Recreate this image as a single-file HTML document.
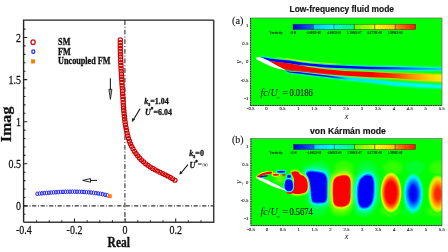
<!DOCTYPE html>
<html><head><meta charset="utf-8"><style>
html,body{margin:0;padding:0;background:#fff;width:448px;height:252px;overflow:hidden}
svg{display:block}
</style></head><body>
<svg width="448" height="252" viewBox="0 0 448 252">
<defs>
<filter id="b03" x="-50%" y="-50%" width="200%" height="200%"><feGaussianBlur stdDeviation="0.3"/></filter>
<filter id="b05" x="-50%" y="-50%" width="200%" height="200%"><feGaussianBlur stdDeviation="0.5"/></filter>
<filter id="b08" x="-50%" y="-50%" width="200%" height="200%"><feGaussianBlur stdDeviation="0.8"/></filter>
<filter id="b1" x="-50%" y="-50%" width="200%" height="200%"><feGaussianBlur stdDeviation="1"/></filter>
<filter id="b15" x="-50%" y="-50%" width="200%" height="200%"><feGaussianBlur stdDeviation="1.5"/></filter>
<filter id="b2" x="-50%" y="-50%" width="200%" height="200%"><feGaussianBlur stdDeviation="2"/></filter>
<filter id="b3" x="-50%" y="-50%" width="200%" height="200%"><feGaussianBlur stdDeviation="3"/></filter>
<clipPath id="cpa"><rect x="250.7" y="18" width="191.3" height="87.5"/></clipPath>
<clipPath id="cpb"><rect x="250.9" y="138.6" width="191.1" height="87"/></clipPath>
<radialGradient id="rR"><stop offset="0" stop-color="#ff0000"/><stop offset="0.5" stop-color="#ff0000"/><stop offset="0.68" stop-color="#ff6000"/><stop offset="0.8" stop-color="#ffc000"/><stop offset="0.88" stop-color="#e0ff00"/><stop offset="1" stop-color="#00ff00"/></radialGradient><radialGradient id="rR2"><stop offset="0" stop-color="#ff2000"/><stop offset="0.3" stop-color="#ff3000"/><stop offset="0.55" stop-color="#ff9000"/><stop offset="0.75" stop-color="#ffe000"/><stop offset="0.88" stop-color="#a0ff00"/><stop offset="1" stop-color="#00ff00"/></radialGradient><radialGradient id="rB"><stop offset="0" stop-color="#0000ff"/><stop offset="0.5" stop-color="#0000ff"/><stop offset="0.66" stop-color="#0070ff"/><stop offset="0.78" stop-color="#00e0ff"/><stop offset="0.88" stop-color="#00ffb0"/><stop offset="1" stop-color="#00ff00"/></radialGradient><radialGradient id="rB2"><stop offset="0" stop-color="#0000f0"/><stop offset="0.35" stop-color="#0010ff"/><stop offset="0.6" stop-color="#0090ff"/><stop offset="0.78" stop-color="#00f0ff"/><stop offset="0.9" stop-color="#00ff90"/><stop offset="1" stop-color="#00ff00"/></radialGradient><radialGradient id="hY"><stop offset="0" stop-color="#b0ff00"/><stop offset="0.6" stop-color="#90ff00"/><stop offset="1" stop-color="#00ff00"/></radialGradient><radialGradient id="hC"><stop offset="0" stop-color="#00ffa0"/><stop offset="0.6" stop-color="#00ff80"/><stop offset="1" stop-color="#00ff00"/></radialGradient><linearGradient id="gRed" x1="250" y1="0" x2="445" y2="0" gradientUnits="userSpaceOnUse">
<stop offset="0" stop-color="#ff0000"/><stop offset="0.62" stop-color="#ff0000"/><stop offset="0.73" stop-color="#ff3000"/><stop offset="0.82" stop-color="#ff8800"/><stop offset="0.92" stop-color="#ffd000"/><stop offset="1" stop-color="#f8f400"/></linearGradient>
<linearGradient id="gBlu" x1="250" y1="0" x2="445" y2="0" gradientUnits="userSpaceOnUse">
<stop offset="0" stop-color="#0000ff"/><stop offset="0.62" stop-color="#0000ff"/><stop offset="0.73" stop-color="#0040ff"/><stop offset="0.87" stop-color="#0090ff"/><stop offset="1" stop-color="#00d8ff"/></linearGradient>
<linearGradient id="gFr" x1="272" y1="0" x2="345" y2="0" gradientUnits="userSpaceOnUse">
<stop offset="0" stop-color="#00ff00"/><stop offset="0.2" stop-color="#a0ff00"/><stop offset="0.5" stop-color="#e0ff00"/><stop offset="0.8" stop-color="#a0ff00"/><stop offset="1" stop-color="#00ff00"/></linearGradient>
<linearGradient id="gYH" x1="250" y1="0" x2="445" y2="0" gradientUnits="userSpaceOnUse">
<stop offset="0" stop-color="#ffe000" stop-opacity="0"/><stop offset="0.23" stop-color="#ffe000" stop-opacity="0"/><stop offset="0.3" stop-color="#ffe000" stop-opacity="0.9"/><stop offset="1" stop-color="#ffe000" stop-opacity="0.9"/></linearGradient>
<linearGradient id="gBlu2" x1="250" y1="0" x2="445" y2="0" gradientUnits="userSpaceOnUse">
<stop offset="0" stop-color="#0000ff"/><stop offset="0.38" stop-color="#0000ff"/><stop offset="0.45" stop-color="#0060ff"/><stop offset="0.5" stop-color="#00e0ff"/><stop offset="1" stop-color="#00ffff"/></linearGradient>
</defs>
<rect width="448" height="252" fill="#fff"/>
<line x1="23.6" y1="205.9" x2="213.7" y2="205.9" stroke="#333" stroke-width="1.1" stroke-dasharray="4.2 1.7 0.9 1.7"/><line x1="124.9" y1="20.1" x2="124.9" y2="222.2" stroke="#333" stroke-width="1.1" stroke-dasharray="4.8 1.9 1 1.9"/><path d="M23.6 214.32h1.9 M23.6 205.90h3.6 M23.6 197.48h1.9 M23.6 189.06h1.9 M23.6 180.64h1.9 M23.6 172.22h1.9 M23.6 163.80h3.6 M23.6 155.38h1.9 M23.6 146.96h1.9 M23.6 138.54h1.9 M23.6 130.12h1.9 M23.6 121.70h3.6 M23.6 113.28h1.9 M23.6 104.86h1.9 M23.6 96.44h1.9 M23.6 88.02h1.9 M23.6 79.60h3.6 M23.6 71.18h1.9 M23.6 62.76h1.9 M23.6 54.34h1.9 M23.6 45.92h1.9 M23.6 37.50h3.6 M23.6 29.08h1.9 M36.55 222.2v-1.9 M49.20 222.2v-1.9 M61.85 222.2v-1.9 M74.50 222.2v-3.6 M87.15 222.2v-1.9 M99.80 222.2v-1.9 M112.45 222.2v-1.9 M125.10 222.2v-3.6 M137.75 222.2v-1.9 M150.40 222.2v-1.9 M163.05 222.2v-1.9 M175.70 222.2v-3.6 M188.35 222.2v-1.9 M201.00 222.2v-1.9" stroke="#222" stroke-width="1.1" fill="none"/><path d="M23.6 222.2V20.1H213.7" stroke="#222" stroke-width="1.4" fill="none"/><path d="M213.7 20.1V222.2H23.6" stroke="#3a3a3a" stroke-width="1.5" fill="none"/><text transform="translate(20.90,210.20) scale(0.78,1)" text-anchor="end" font-family='"Liberation Serif",serif' font-size="12.8" font-weight="normal" font-style="normal" fill="#111" stroke="#111" stroke-width="0.25">0</text><text transform="translate(20.90,168.10) scale(0.78,1)" text-anchor="end" font-family='"Liberation Serif",serif' font-size="12.8" font-weight="normal" font-style="normal" fill="#111" stroke="#111" stroke-width="0.25">0.5</text><text transform="translate(20.90,126.00) scale(0.78,1)" text-anchor="end" font-family='"Liberation Serif",serif' font-size="12.8" font-weight="normal" font-style="normal" fill="#111" stroke="#111" stroke-width="0.25">1</text><text transform="translate(20.90,83.90) scale(0.78,1)" text-anchor="end" font-family='"Liberation Serif",serif' font-size="12.8" font-weight="normal" font-style="normal" fill="#111" stroke="#111" stroke-width="0.25">1.5</text><text transform="translate(20.90,41.80) scale(0.78,1)" text-anchor="end" font-family='"Liberation Serif",serif' font-size="12.8" font-weight="normal" font-style="normal" fill="#111" stroke="#111" stroke-width="0.25">2</text><text transform="translate(23.90,233.70) scale(0.78,1)" text-anchor="middle" font-family='"Liberation Serif",serif' font-size="12.8" font-weight="normal" font-style="normal" fill="#111" stroke="#111" stroke-width="0.25">-0.4</text><text transform="translate(74.50,233.70) scale(0.78,1)" text-anchor="middle" font-family='"Liberation Serif",serif' font-size="12.8" font-weight="normal" font-style="normal" fill="#111" stroke="#111" stroke-width="0.25">-0.2</text><text transform="translate(125.10,233.70) scale(0.78,1)" text-anchor="middle" font-family='"Liberation Serif",serif' font-size="12.8" font-weight="normal" font-style="normal" fill="#111" stroke="#111" stroke-width="0.25">0</text><text transform="translate(175.70,233.70) scale(0.78,1)" text-anchor="middle" font-family='"Liberation Serif",serif' font-size="12.8" font-weight="normal" font-style="normal" fill="#111" stroke="#111" stroke-width="0.25">0.2</text><text x="107.6" y="246.7" font-family='"Liberation Serif",serif' font-size="13.6" font-weight="bold" fill="#111" stroke="#111" stroke-width="0.3" textLength="22.3" lengthAdjust="spacingAndGlyphs">Real</text><text transform="translate(11.3,142.2) rotate(-90) scale(1,0.87)" font-family='"Liberation Serif",serif' font-size="16" font-weight="bold" fill="#111" stroke="#111" stroke-width="0.3" textLength="35.6" lengthAdjust="spacingAndGlyphs">Imag</text><ellipse cx="33.1" cy="42.2" rx="2.05" ry="2.3" fill="none" stroke="#d01818" stroke-width="1.4"/><ellipse cx="33.3" cy="51.7" rx="1.5" ry="1.75" fill="none" stroke="#2828f0" stroke-width="1.3"/><rect x="31.1" y="59.3" width="3.8" height="4.2" fill="#ff7a00"/><text transform="translate(58.10,44.90) scale(0.87,1)" text-anchor="start" font-family='"Liberation Serif",serif' font-size="9.4" font-weight="bold" font-style="normal" fill="#111" stroke="#111" stroke-width="0.3">SM</text><text transform="translate(58.10,54.60) scale(0.87,1)" text-anchor="start" font-family='"Liberation Serif",serif' font-size="9.4" font-weight="bold" font-style="normal" fill="#111" stroke="#111" stroke-width="0.3">FM</text><text transform="translate(58.10,64.40) scale(0.87,1)" text-anchor="start" font-family='"Liberation Serif",serif' font-size="9.4" font-weight="bold" font-style="normal" fill="#111" stroke="#111" stroke-width="0.3">Uncoupled FM</text><g fill="none" stroke="#cc0404" stroke-width="1.2"><ellipse cx="120.29" cy="39.78" rx="2.15" ry="1.95"/><ellipse cx="120.27" cy="42.63" rx="2.15" ry="1.95"/><ellipse cx="120.28" cy="45.48" rx="2.15" ry="1.95"/><ellipse cx="120.31" cy="48.33" rx="2.15" ry="1.95"/><ellipse cx="120.37" cy="51.17" rx="2.15" ry="1.95"/><ellipse cx="120.44" cy="54.02" rx="2.15" ry="1.95"/><ellipse cx="120.54" cy="56.86" rx="2.15" ry="1.95"/><ellipse cx="120.65" cy="59.71" rx="2.15" ry="1.95"/><ellipse cx="120.77" cy="62.55" rx="2.15" ry="1.95"/><ellipse cx="120.91" cy="65.39" rx="2.15" ry="1.95"/><ellipse cx="121.06" cy="68.23" rx="2.15" ry="1.95"/><ellipse cx="121.22" cy="71.06" rx="2.15" ry="1.95"/><ellipse cx="121.39" cy="73.90" rx="2.15" ry="1.95"/><ellipse cx="121.56" cy="76.73" rx="2.15" ry="1.95"/><ellipse cx="121.75" cy="79.57" rx="2.15" ry="1.95"/><ellipse cx="121.93" cy="82.40" rx="2.15" ry="1.95"/><ellipse cx="122.12" cy="85.23" rx="2.15" ry="1.95"/><ellipse cx="122.31" cy="88.06" rx="2.15" ry="1.95"/><ellipse cx="122.49" cy="90.89" rx="2.15" ry="1.95"/><ellipse cx="122.67" cy="93.72" rx="2.15" ry="1.95"/><ellipse cx="122.85" cy="96.54" rx="2.15" ry="1.95"/><ellipse cx="123.03" cy="99.37" rx="2.15" ry="1.95"/><ellipse cx="123.21" cy="102.20" rx="2.15" ry="1.95"/><ellipse cx="123.40" cy="105.02" rx="2.15" ry="1.95"/><ellipse cx="123.60" cy="107.85" rx="2.15" ry="1.95"/><ellipse cx="123.83" cy="110.67" rx="2.15" ry="1.95"/><ellipse cx="124.08" cy="113.48" rx="2.15" ry="1.95"/><ellipse cx="124.36" cy="116.30" rx="2.15" ry="1.95"/><ellipse cx="124.68" cy="119.11" rx="2.15" ry="1.95"/><ellipse cx="125.05" cy="121.91" rx="2.15" ry="1.95"/><ellipse cx="125.46" cy="124.70" rx="2.15" ry="1.95"/><ellipse cx="125.93" cy="127.49" rx="2.15" ry="1.95"/><ellipse cx="126.45" cy="130.26" rx="2.15" ry="1.95"/><ellipse cx="127.04" cy="133.02" rx="2.15" ry="1.95"/><ellipse cx="127.72" cy="135.76" rx="2.15" ry="1.95"/><ellipse cx="128.50" cy="138.47" rx="2.15" ry="1.95"/><ellipse cx="129.40" cy="141.14" rx="2.15" ry="1.95"/><ellipse cx="130.44" cy="143.76" rx="2.15" ry="1.95"/><ellipse cx="131.62" cy="146.32" rx="2.15" ry="1.95"/><ellipse cx="132.95" cy="148.81" rx="2.15" ry="1.95"/><ellipse cx="134.40" cy="151.22" rx="2.15" ry="1.95"/><ellipse cx="135.99" cy="153.54" rx="2.15" ry="1.95"/><ellipse cx="137.70" cy="155.77" rx="2.15" ry="1.95"/><ellipse cx="139.54" cy="157.91" rx="2.15" ry="1.95"/><ellipse cx="141.48" cy="159.94" rx="2.15" ry="1.95"/><ellipse cx="143.53" cy="161.87" rx="2.15" ry="1.95"/><ellipse cx="145.68" cy="163.68" rx="2.15" ry="1.95"/><ellipse cx="147.92" cy="165.37" rx="2.15" ry="1.95"/><ellipse cx="150.25" cy="166.94" rx="2.15" ry="1.95"/><ellipse cx="152.65" cy="168.40" rx="2.15" ry="1.95"/><ellipse cx="155.11" cy="169.76" rx="2.15" ry="1.95"/><ellipse cx="157.61" cy="171.04" rx="2.15" ry="1.95"/><ellipse cx="160.12" cy="172.29" rx="2.15" ry="1.95"/><ellipse cx="162.65" cy="173.51" rx="2.15" ry="1.95"/><ellipse cx="165.17" cy="174.74" rx="2.15" ry="1.95"/><ellipse cx="167.67" cy="176.00" rx="2.15" ry="1.95"/><ellipse cx="170.15" cy="177.32" rx="2.15" ry="1.95"/><ellipse cx="172.57" cy="178.72" rx="2.15" ry="1.95"/><ellipse cx="174.92" cy="180.24" rx="2.15" ry="1.95"/></g><g fill="none" stroke="#2020f4" stroke-width="1.0"><ellipse cx="37.21" cy="193.79" rx="1.45" ry="1.8"/><ellipse cx="39.55" cy="193.57" rx="1.45" ry="1.8"/><ellipse cx="41.89" cy="193.35" rx="1.45" ry="1.8"/><ellipse cx="44.23" cy="193.14" rx="1.45" ry="1.8"/><ellipse cx="46.57" cy="192.94" rx="1.45" ry="1.8"/><ellipse cx="48.91" cy="192.75" rx="1.45" ry="1.8"/><ellipse cx="51.25" cy="192.57" rx="1.45" ry="1.8"/><ellipse cx="53.60" cy="192.40" rx="1.45" ry="1.8"/><ellipse cx="55.94" cy="192.25" rx="1.45" ry="1.8"/><ellipse cx="58.29" cy="192.11" rx="1.45" ry="1.8"/><ellipse cx="60.63" cy="191.99" rx="1.45" ry="1.8"/><ellipse cx="62.98" cy="191.88" rx="1.45" ry="1.8"/><ellipse cx="65.33" cy="191.80" rx="1.45" ry="1.8"/><ellipse cx="67.68" cy="191.73" rx="1.45" ry="1.8"/><ellipse cx="70.03" cy="191.69" rx="1.45" ry="1.8"/><ellipse cx="72.38" cy="191.67" rx="1.45" ry="1.8"/><ellipse cx="74.73" cy="191.68" rx="1.45" ry="1.8"/><ellipse cx="77.08" cy="191.72" rx="1.45" ry="1.8"/><ellipse cx="79.43" cy="191.78" rx="1.45" ry="1.8"/><ellipse cx="81.78" cy="191.87" rx="1.45" ry="1.8"/><ellipse cx="84.12" cy="192.00" rx="1.45" ry="1.8"/><ellipse cx="86.47" cy="192.15" rx="1.45" ry="1.8"/><ellipse cx="88.81" cy="192.34" rx="1.45" ry="1.8"/><ellipse cx="91.15" cy="192.57" rx="1.45" ry="1.8"/><ellipse cx="93.48" cy="192.83" rx="1.45" ry="1.8"/><ellipse cx="95.81" cy="193.14" rx="1.45" ry="1.8"/><ellipse cx="98.14" cy="193.48" rx="1.45" ry="1.8"/><ellipse cx="100.46" cy="193.86" rx="1.45" ry="1.8"/><ellipse cx="102.77" cy="194.29" rx="1.45" ry="1.8"/><ellipse cx="105.07" cy="194.76" rx="1.45" ry="1.8"/><ellipse cx="107.36" cy="195.27" rx="1.45" ry="1.8"/></g><rect x="107.9" y="194.2" width="3.8" height="4" fill="#ff7a00"/><path d="M110.4 78.2V90" stroke="#222" stroke-width="1.1"/><path d="M108.9 89.3L110.4 99.4L111.9 89.3Z" fill="#aaa" stroke="#111" stroke-width="0.8"/><path d="M97 180.4H89" stroke="#111" stroke-width="1"/><path d="M90.5 178.6L82.7 180.4L90.5 182.2Z" fill="#fff" stroke="#111" stroke-width="0.9"/><path d="M140 108.8L133.5 119.8" stroke="#111" stroke-width="1.1"/><path d="M131.9 122L132.2 117.9L135.0 119.6Z" fill="#111"/><path d="M187.9 164.6L181 173" stroke="#111" stroke-width="1.1"/><path d="M179.5 174.8L180 170.9L182.6 172.9Z" fill="#111"/><text transform="translate(144.20,103.60) scale(0.87,1)" text-anchor="start" font-family='"Liberation Serif",serif' font-size="9.2" font-weight="bold" font-style="normal" fill="#111" stroke="#111" stroke-width="0.3"><tspan font-style="italic">k</tspan><tspan font-size="6" dy="2">s</tspan><tspan dy="-2">=1.04</tspan></text><text transform="translate(145.10,114.70) scale(0.87,1)" text-anchor="start" font-family='"Liberation Serif",serif' font-size="9.2" font-weight="bold" font-style="normal" fill="#111" stroke="#111" stroke-width="0.3"><tspan font-style="italic">U</tspan><tspan font-size="6" dy="-4">*</tspan><tspan dy="4">=6.04</tspan></text><text transform="translate(189.30,156.10) scale(0.87,1)" text-anchor="start" font-family='"Liberation Serif",serif' font-size="9.2" font-weight="bold" font-style="normal" fill="#111" stroke="#111" stroke-width="0.3"><tspan font-style="italic">k</tspan><tspan font-size="6" dy="2">s</tspan><tspan dy="-2">=0</tspan></text><text transform="translate(189.60,167.70) scale(0.87,1)" text-anchor="start" font-family='"Liberation Serif",serif' font-size="9.2" font-weight="bold" font-style="normal" fill="#111" stroke="#111" stroke-width="0.3"><tspan font-style="italic">U</tspan><tspan font-size="6" dy="-4">*</tspan></text><text x="197.6" y="167.3" font-family='"Liberation Serif",serif' font-size="7.2" font-weight="bold" fill="#111" textLength="10.4" lengthAdjust="spacingAndGlyphs">=&#8734;</text>
<rect x="250.6" y="18.0" width="191.40" height="87.50" fill="#00ff00"/><g clip-path="url(#cpa)"><path d="M261.2 56.1 L266.0 56.9 L270.1 57.7 L278.1 58.5 L290.0 59.7 L300.0 61.4 L310.0 62.7 L325.0 63.9 L345.0 64.9 L370.0 65.9 L392.0 66.1 L420.0 66.8 L445.0 67.5 L445.0 70.8 L420.0 70.7 L392.0 70.5 L370.0 70.1 L345.0 69.2 L325.0 68.4 L310.0 66.9 L300.0 66.1 L290.0 64.3 L278.1 63.1 L270.1 61.9 L266.0 60.5 L261.2 58.2Z" fill="#00ffff" filter="url(#b08)"/><path d="M261.2 57.0 L266.0 57.8 L270.1 58.6 L278.1 59.4 L290.0 60.6 L300.0 62.3 L310.0 63.6 L325.0 64.8 L345.0 65.8 L370.0 66.8 L392.0 67.0 L420.0 67.7 L445.0 68.4 L445.0 69.9 L420.0 69.8 L392.0 69.6 L370.0 69.2 L345.0 68.3 L325.0 67.5 L310.0 66.0 L300.0 65.2 L290.0 63.4 L278.1 62.2 L270.1 61.0 L266.0 59.6 L261.2 57.3Z" fill="url(#gBlu)" filter="url(#b05)"/><path d="M272.0 56.8 L285.0 58.1 L300.0 60.3 L315.0 62.0 L330.0 63.0 L345.0 63.8 L345.0 64.9 L330.0 64.1 L315.0 63.1 L300.0 61.4 L285.0 59.2 L272.0 57.9Z" fill="url(#gFr)" filter="url(#b05)"/><path d="M269.3 60.5 L274.1 61.1 L278.1 61.6 L282.1 62.0 L286.2 62.5 L290.0 62.9 L300.0 65.1 L310.0 66.8 L325.0 68.7 L345.0 70.4 L370.0 71.6 L392.0 72.8 L420.0 73.5 L445.0 74.2 L445.0 82.6 L420.0 81.2 L392.0 79.1 L370.0 78.2 L345.0 76.8 L325.0 75.3 L310.0 73.7 L300.0 72.8 L290.0 72.1 L286.2 71.3 L282.1 69.3 L278.1 67.3 L274.1 64.9 L269.3 62.6Z" fill="url(#gYH)" filter="url(#b08)"/><path d="M269.3 61.0 L274.1 61.6 L278.1 62.1 L282.1 62.5 L286.2 63.0 L290.0 63.4 L300.0 65.6 L310.0 67.3 L325.0 69.2 L345.0 70.9 L370.0 72.1 L392.0 73.3 L420.0 74.0 L445.0 74.7 L445.0 81.6 L420.0 80.2 L392.0 78.1 L370.0 77.2 L345.0 75.8 L325.0 74.3 L310.0 72.7 L300.0 71.8 L290.0 71.1 L286.2 70.3 L282.1 68.3 L278.1 66.3 L274.1 63.9 L269.3 61.6Z" fill="url(#gRed)" filter="url(#b05)"/><path d="M285.4 70.1 L290.0 71.2 L300.0 71.7 L310.0 72.9 L325.0 74.7 L345.0 76.9 L370.0 79.1 L392.0 81.8 L420.0 83.5 L445.0 85.0 L445.0 88.6 L420.0 87.4 L392.0 85.6 L370.0 82.5 L345.0 80.0 L325.0 77.4 L310.0 75.5 L300.0 74.3 L290.0 73.3 L285.4 71.4Z" fill="#00ffff" filter="url(#b08)"/><path d="M285.4 70.6 L290.0 71.7 L300.0 72.2 L310.0 73.4 L325.0 75.2 L345.0 77.4 L370.0 79.6 L392.0 82.3 L420.0 84.0 L445.0 85.5 L445.0 88.0 L420.0 86.8 L392.0 85.0 L370.0 81.9 L345.0 79.4 L325.0 76.8 L310.0 74.9 L300.0 73.7 L290.0 72.7 L285.4 70.8Z" fill="url(#gBlu2)" filter="url(#b05)"/><path d="M256 58.2 L256.6 57.2 L258 56.9 L262 58 L266.1 59.8 L270.1 61.8 L274.1 63.9 L278.1 66.3 L282.1 68.3 L285.4 70.0 L285.4 70.2 L282.1 69.5 L278.1 68.7 L274.1 67.5 L270.1 65.9 L266.1 64.3 L262 62.2 L257.2 59.8 L256.3 59.2Z" fill="#fff" filter="url(#b03)"/></g><linearGradient id="cb18_0"><stop offset="0" stop-color="#0000d8"/><stop offset="1" stop-color="#1060ff"/></linearGradient><rect x="293.00" y="24.2" width="20.45" height="5.30" fill="url(#cb18_0)"/><linearGradient id="cb18_1"><stop offset="0" stop-color="#00c8ff"/><stop offset="1" stop-color="#00ffff"/></linearGradient><rect x="313.45" y="24.2" width="20.45" height="5.30" fill="url(#cb18_1)"/><linearGradient id="cb18_2"><stop offset="0" stop-color="#00ffd0"/><stop offset="1" stop-color="#00ff70"/></linearGradient><rect x="333.90" y="24.2" width="20.45" height="5.30" fill="url(#cb18_2)"/><linearGradient id="cb18_3"><stop offset="0" stop-color="#60ff00"/><stop offset="1" stop-color="#d0ff00"/></linearGradient><rect x="354.35" y="24.2" width="20.45" height="5.30" fill="url(#cb18_3)"/><linearGradient id="cb18_4"><stop offset="0" stop-color="#ffff00"/><stop offset="1" stop-color="#ffc000"/></linearGradient><rect x="374.80" y="24.2" width="20.45" height="5.30" fill="url(#cb18_4)"/><linearGradient id="cb18_5"><stop offset="0" stop-color="#ff9000"/><stop offset="1" stop-color="#ff1000"/></linearGradient><rect x="395.25" y="24.2" width="20.45" height="5.30" fill="url(#cb18_5)"/><rect x="293.0" y="24.2" width="122.70" height="5.30" fill="none" stroke="#333" stroke-width="0.5"/><path d="M313.45 24.2V29.5 M333.90 24.2V29.5 M354.35 24.2V29.5 M374.80 24.2V29.5 M395.25 24.2V29.5" stroke="#333" stroke-width="0.6"/><text x="276.00" y="34.40" text-anchor="middle" font-family='"Liberation Serif",serif' font-size="3.6" font-weight="bold" font-style="normal" fill="#111" textLength="13.5" lengthAdjust="spacingAndGlyphs">Vorticity</text><text x="293.00" y="34.40" text-anchor="middle" font-family='"Liberation Serif",serif' font-size="3.4" font-weight="bold" font-style="normal" fill="#111" textLength="6" lengthAdjust="spacingAndGlyphs">-2E-08</text><text x="313.45" y="34.40" text-anchor="middle" font-family='"Liberation Serif",serif' font-size="3.4" font-weight="bold" font-style="normal" fill="#111" textLength="14.5" lengthAdjust="spacingAndGlyphs">-1.0002E-08</text><text x="333.90" y="34.40" text-anchor="middle" font-family='"Liberation Serif",serif' font-size="3.4" font-weight="bold" font-style="normal" fill="#111" textLength="14.5" lengthAdjust="spacingAndGlyphs">-4.0002E-09</text><text x="354.35" y="34.40" text-anchor="middle" font-family='"Liberation Serif",serif' font-size="3.4" font-weight="bold" font-style="normal" fill="#111" textLength="14.5" lengthAdjust="spacingAndGlyphs">1.3006E-07</text><text x="374.80" y="34.40" text-anchor="middle" font-family='"Liberation Serif",serif' font-size="3.4" font-weight="bold" font-style="normal" fill="#111" textLength="14.5" lengthAdjust="spacingAndGlyphs">6.0778E-09</text><text x="395.25" y="34.40" text-anchor="middle" font-family='"Liberation Serif",serif' font-size="3.4" font-weight="bold" font-style="normal" fill="#111" textLength="14.5" lengthAdjust="spacingAndGlyphs">1.9994E-08</text><rect x="250.6" y="18.0" width="191.40" height="87.50" fill="none" stroke="#666" stroke-width="0.7"/><path d="M250.6 105.5H442.0" stroke="#222" stroke-width="0.9" stroke-dasharray="1.4 1.0"/><path d="M250.6 18.0V105.5" stroke="#222" stroke-width="0.9" stroke-dasharray="1.4 1.0"/><text x="250.60" y="110.40" text-anchor="middle" font-family='"Liberation Serif",serif' font-size="4.8" font-weight="normal" font-style="normal" fill="#222" stroke="#222" stroke-width="0.12">-0.5</text><text x="266.52" y="110.40" text-anchor="middle" font-family='"Liberation Serif",serif' font-size="4.8" font-weight="normal" font-style="normal" fill="#222" stroke="#222" stroke-width="0.12">0</text><text x="282.45" y="110.40" text-anchor="middle" font-family='"Liberation Serif",serif' font-size="4.8" font-weight="normal" font-style="normal" fill="#222" stroke="#222" stroke-width="0.12">0.5</text><text x="298.38" y="110.40" text-anchor="middle" font-family='"Liberation Serif",serif' font-size="4.8" font-weight="normal" font-style="normal" fill="#222" stroke="#222" stroke-width="0.12">1</text><text x="314.30" y="110.40" text-anchor="middle" font-family='"Liberation Serif",serif' font-size="4.8" font-weight="normal" font-style="normal" fill="#222" stroke="#222" stroke-width="0.12">1.5</text><text x="330.23" y="110.40" text-anchor="middle" font-family='"Liberation Serif",serif' font-size="4.8" font-weight="normal" font-style="normal" fill="#222" stroke="#222" stroke-width="0.12">2</text><text x="346.15" y="110.40" text-anchor="middle" font-family='"Liberation Serif",serif' font-size="4.8" font-weight="normal" font-style="normal" fill="#222" stroke="#222" stroke-width="0.12">2.5</text><text x="362.07" y="110.40" text-anchor="middle" font-family='"Liberation Serif",serif' font-size="4.8" font-weight="normal" font-style="normal" fill="#222" stroke="#222" stroke-width="0.12">3</text><text x="378.00" y="110.40" text-anchor="middle" font-family='"Liberation Serif",serif' font-size="4.8" font-weight="normal" font-style="normal" fill="#222" stroke="#222" stroke-width="0.12">3.5</text><text x="393.93" y="110.40" text-anchor="middle" font-family='"Liberation Serif",serif' font-size="4.8" font-weight="normal" font-style="normal" fill="#222" stroke="#222" stroke-width="0.12">4</text><text x="409.85" y="110.40" text-anchor="middle" font-family='"Liberation Serif",serif' font-size="4.8" font-weight="normal" font-style="normal" fill="#222" stroke="#222" stroke-width="0.12">4.5</text><text x="425.77" y="110.40" text-anchor="middle" font-family='"Liberation Serif",serif' font-size="4.8" font-weight="normal" font-style="normal" fill="#222" stroke="#222" stroke-width="0.12">5</text><text x="441.70" y="110.40" text-anchor="middle" font-family='"Liberation Serif",serif' font-size="4.8" font-weight="normal" font-style="normal" fill="#222" stroke="#222" stroke-width="0.12">5.5</text><text x="248.30" y="26.80" text-anchor="end" font-family='"Liberation Serif",serif' font-size="4.8" font-weight="normal" font-style="normal" fill="#222" stroke="#222" stroke-width="0.12">1</text><text x="248.30" y="45.10" text-anchor="end" font-family='"Liberation Serif",serif' font-size="4.8" font-weight="normal" font-style="normal" fill="#222" stroke="#222" stroke-width="0.12">0.5</text><text x="248.30" y="63.40" text-anchor="end" font-family='"Liberation Serif",serif' font-size="4.8" font-weight="normal" font-style="normal" fill="#222" stroke="#222" stroke-width="0.12">0</text><text x="248.30" y="81.70" text-anchor="end" font-family='"Liberation Serif",serif' font-size="4.8" font-weight="normal" font-style="normal" fill="#222" stroke="#222" stroke-width="0.12">-0.5</text><text x="248.30" y="100.00" text-anchor="end" font-family='"Liberation Serif",serif' font-size="4.8" font-weight="normal" font-style="normal" fill="#222" stroke="#222" stroke-width="0.12">-1</text><text transform="translate(240.8,61.70) rotate(-90)" text-anchor="middle" font-family='"Liberation Serif",serif' font-size="8" font-style="italic" fill="#111">y</text><text x="346.50" y="118.80" text-anchor="middle" font-family='"Liberation Serif",serif' font-size="8" font-weight="normal" font-style="italic" fill="#111">x</text><text x="232.00" y="23.90" text-anchor="start" font-family='"Liberation Serif",serif' font-size="9.6" font-weight="normal" font-style="normal" fill="#111" textLength="11.5" lengthAdjust="spacingAndGlyphs" stroke="#111" stroke-width="0.1">(a)</text><text x="289.60" y="11.90" text-anchor="start" font-family='"Liberation Sans",Arial,sans-serif' font-size="8.7" font-weight="bold" font-style="normal" fill="#111" textLength="104.4" lengthAdjust="spacingAndGlyphs" stroke="#111" stroke-width="0.15">Low-frequency fluid mode</text><text x="260.4" y="95.8" font-family='"Liberation Serif",serif' font-size="9.4" fill="#111" textLength="17.4" lengthAdjust="spacingAndGlyphs"><tspan font-style="italic">fc</tspan>/<tspan font-style="italic">U</tspan></text><text x="276.4" y="98.8" font-family='"Liberation Serif",serif' font-size="4.4" fill="#111">&#8734;</text><text x="282.40" y="95.80" text-anchor="start" font-family='"Liberation Serif",serif' font-size="10" font-weight="normal" font-style="normal" fill="#111" textLength="5.4" lengthAdjust="spacingAndGlyphs" stroke="#111" stroke-width="0.15">=</text><text x="289.40" y="95.80" text-anchor="start" font-family='"Liberation Serif",serif' font-size="10" font-weight="normal" font-style="normal" fill="#111" textLength="23.4" lengthAdjust="spacingAndGlyphs" stroke="#111" stroke-width="0.15">0.0186</text><rect x="250.9" y="138.6" width="191.10" height="87.00" fill="#00ff00"/><g clip-path="url(#cpb)"><ellipse cx="320.00" cy="168.00" rx="12.00" ry="9.00" fill="url(#hC)" opacity="0.3"/><ellipse cx="317.00" cy="211.00" rx="12.00" ry="7.00" fill="url(#hC)" opacity="0.3"/><ellipse cx="344.00" cy="168.00" rx="12.00" ry="9.00" fill="url(#hY)" opacity="0.3"/><ellipse cx="341.00" cy="211.00" rx="12.00" ry="7.00" fill="url(#hY)" opacity="0.3"/><ellipse cx="367.00" cy="168.00" rx="12.00" ry="9.00" fill="url(#hC)" opacity="0.3"/><ellipse cx="364.00" cy="211.00" rx="12.00" ry="7.00" fill="url(#hC)" opacity="0.3"/><ellipse cx="393.00" cy="168.00" rx="12.00" ry="9.00" fill="url(#hY)" opacity="0.3"/><ellipse cx="390.00" cy="211.00" rx="12.00" ry="7.00" fill="url(#hY)" opacity="0.3"/><ellipse cx="415.00" cy="168.00" rx="12.00" ry="9.00" fill="url(#hC)" opacity="0.3"/><ellipse cx="412.00" cy="211.00" rx="12.00" ry="7.00" fill="url(#hC)" opacity="0.3"/><ellipse cx="439.00" cy="168.00" rx="12.00" ry="9.00" fill="url(#hY)" opacity="0.3"/><ellipse cx="436.00" cy="211.00" rx="12.00" ry="7.00" fill="url(#hY)" opacity="0.3"/><path d="M302.88 169.68 C303.29 168.46 304.96 167.31 306.84 166.76 C308.72 166.21 311.14 166.13 314.16 166.36 C317.18 166.60 322.40 167.19 324.97 168.17 C327.54 169.15 328.45 170.56 329.59 172.24 C330.73 173.93 331.43 174.74 331.81 178.29 C332.20 181.83 332.19 189.49 331.92 193.52 C331.64 197.54 331.01 200.20 330.18 202.44 C329.35 204.68 328.92 205.97 326.94 206.95 C324.96 207.93 320.88 208.27 318.31 208.29 C315.74 208.32 313.07 208.14 311.52 207.11 C309.97 206.07 309.80 204.18 309.00 202.07 C308.20 199.96 307.42 197.73 306.72 194.43 C306.02 191.12 305.17 185.64 304.78 182.24 C304.39 178.85 304.70 176.16 304.38 174.06 C304.06 171.97 302.47 170.89 302.88 169.68Z" fill="#00ffb0" filter="url(#b2)" opacity="0.75"/><path d="M304.97 172.10 C305.24 170.99 306.72 170.02 308.33 169.59 C309.94 169.16 312.07 169.27 314.63 169.53 C317.19 169.78 321.56 170.26 323.70 171.11 C325.83 171.96 326.58 173.18 327.46 174.63 C328.35 176.08 328.74 176.90 329.00 179.81 C329.26 182.72 329.18 188.75 329.04 192.10 C328.91 195.46 328.75 197.95 328.17 199.95 C327.59 201.94 327.24 203.20 325.57 204.06 C323.90 204.92 320.34 205.10 318.13 205.10 C315.93 205.09 313.63 204.99 312.35 204.01 C311.07 203.04 310.98 201.15 310.46 199.22 C309.94 197.30 309.68 195.11 309.24 192.45 C308.80 189.78 308.25 185.93 307.82 183.23 C307.40 180.53 307.17 178.13 306.69 176.27 C306.22 174.42 304.70 173.22 304.97 172.10Z" fill="#00ffff" filter="url(#b1)"/><path d="M305.87 173.15 C306.08 172.08 307.48 171.18 308.97 170.81 C310.47 170.43 312.47 170.63 314.83 170.89 C317.20 171.15 321.20 171.57 323.15 172.37 C325.10 173.16 325.77 174.31 326.55 175.66 C327.32 177.01 327.58 177.83 327.79 180.46 C328.00 183.10 327.89 188.43 327.81 191.50 C327.73 194.56 327.78 196.99 327.31 198.88 C326.83 200.76 326.52 202.01 324.98 202.82 C323.44 203.62 320.11 203.75 318.06 203.72 C316.01 203.70 313.87 203.64 312.71 202.69 C311.55 201.73 311.49 199.85 311.09 198.00 C310.69 196.15 310.64 193.99 310.32 191.60 C309.99 189.20 309.57 186.05 309.13 183.65 C308.69 181.26 308.23 178.97 307.69 177.22 C307.14 175.47 305.65 174.22 305.87 173.15Z" fill="#0080ff" filter="url(#b05)"/><path d="M306.60 174.00 C306.77 172.97 308.10 172.13 309.50 171.80 C310.90 171.47 312.80 171.73 315.00 172.00 C317.20 172.27 320.90 172.65 322.70 173.40 C324.50 174.15 325.12 175.23 325.80 176.50 C326.48 177.77 326.63 178.58 326.80 181.00 C326.97 183.42 326.83 188.17 326.80 191.00 C326.77 193.83 326.98 196.20 326.60 198.00 C326.22 199.80 325.93 201.03 324.50 201.80 C323.07 202.57 319.92 202.63 318.00 202.60 C316.08 202.57 314.07 202.53 313.00 201.60 C311.93 200.67 311.90 198.78 311.60 197.00 C311.30 195.22 311.43 193.07 311.20 190.90 C310.97 188.73 310.65 186.15 310.20 184.00 C309.75 181.85 309.10 179.67 308.50 178.00 C307.90 176.33 306.43 175.03 306.60 174.00Z" fill="#0000ff" filter="url(#b03)"/><path d="M328.75 183.51 C329.16 179.73 329.92 177.79 331.23 175.85 C332.54 173.92 334.25 172.80 336.60 171.90 C338.94 171.00 343.00 170.42 345.30 170.46 C347.59 170.50 348.98 171.03 350.36 172.13 C351.73 173.24 352.72 173.65 353.55 177.07 C354.39 180.49 355.35 188.38 355.36 192.64 C355.37 196.90 354.34 200.06 353.59 202.63 C352.83 205.19 352.32 206.60 350.83 208.04 C349.34 209.47 347.00 210.74 344.65 211.26 C342.29 211.77 338.88 211.70 336.69 211.13 C334.50 210.56 332.81 209.92 331.49 207.82 C330.17 205.72 329.22 202.57 328.77 198.52 C328.31 194.47 328.34 187.28 328.75 183.51Z" fill="#b0ff00" filter="url(#b2)" opacity="0.75"/><path d="M331.54 185.07 C331.80 181.99 332.10 180.14 333.09 178.46 C334.08 176.77 335.53 175.78 337.48 174.97 C339.43 174.17 342.87 173.61 344.80 173.62 C346.73 173.64 347.95 174.08 349.07 175.06 C350.19 176.05 350.99 176.67 351.51 179.54 C352.03 182.40 352.21 188.77 352.19 192.24 C352.16 195.71 351.81 198.19 351.34 200.35 C350.87 202.51 350.55 203.90 349.37 205.19 C348.19 206.48 346.22 207.61 344.24 208.08 C342.26 208.56 339.35 208.53 337.51 208.04 C335.67 207.54 334.19 206.96 333.19 205.11 C332.20 203.26 331.82 200.28 331.55 196.94 C331.27 193.60 331.29 188.15 331.54 185.07Z" fill="#ffff00" filter="url(#b1)"/><path d="M332.45 185.58 C332.66 182.73 332.82 180.91 333.70 179.30 C334.59 177.70 335.94 176.75 337.76 175.98 C339.59 175.20 342.82 174.65 344.63 174.66 C346.45 174.66 347.61 175.07 348.65 176.02 C349.68 176.97 350.43 177.66 350.85 180.34 C351.26 183.02 351.19 188.90 351.15 192.11 C351.11 195.32 350.98 197.58 350.60 199.61 C350.22 201.63 349.97 203.02 348.89 204.26 C347.81 205.50 345.96 206.59 344.11 207.05 C342.26 207.51 339.51 207.50 337.78 207.03 C336.05 206.56 334.63 205.99 333.75 204.22 C332.86 202.46 332.67 199.53 332.46 196.42 C332.24 193.32 332.25 188.44 332.45 185.58Z" fill="#ff8000" filter="url(#b05)"/><path d="M333.20 186.00 C333.37 183.33 333.40 181.53 334.20 180.00 C335.00 178.47 336.28 177.55 338.00 176.80 C339.72 176.05 342.78 175.50 344.50 175.50 C346.22 175.50 347.33 175.88 348.30 176.80 C349.27 177.72 349.97 178.47 350.30 181.00 C350.63 183.53 350.35 189.00 350.30 192.00 C350.25 195.00 350.30 197.08 350.00 199.00 C349.70 200.92 349.50 202.30 348.50 203.50 C347.50 204.70 345.75 205.75 344.00 206.20 C342.25 206.65 339.63 206.65 338.00 206.20 C336.37 205.75 335.00 205.20 334.20 203.50 C333.40 201.80 333.37 198.92 333.20 196.00 C333.03 193.08 333.03 188.67 333.20 186.00Z" fill="#ff0000" filter="url(#b03)"/><path d="M352.03 189.35 C352.40 185.15 354.36 179.92 355.83 177.00 C357.31 174.08 359.09 173.07 360.90 171.81 C362.72 170.54 364.81 169.68 366.72 169.40 C368.62 169.13 370.73 169.37 372.32 170.17 C373.92 170.98 375.20 172.15 376.27 174.23 C377.34 176.31 378.34 178.68 378.72 182.66 C379.10 186.63 379.24 193.96 378.57 198.10 C377.89 202.24 376.25 205.07 374.67 207.50 C373.09 209.92 371.20 211.64 369.07 212.64 C366.95 213.64 363.94 213.87 361.91 213.50 C359.88 213.13 358.27 212.31 356.90 210.43 C355.52 208.54 354.46 205.72 353.65 202.21 C352.84 198.69 351.67 193.55 352.03 189.35Z" fill="#00ffb0" filter="url(#b2)" opacity="0.75"/><path d="M355.22 189.68 C355.50 186.27 356.64 182.04 357.73 179.58 C358.81 177.12 360.25 176.06 361.73 174.90 C363.21 173.74 365.00 172.88 366.60 172.60 C368.21 172.32 370.05 172.51 371.38 173.23 C372.71 173.96 373.81 175.09 374.58 176.95 C375.36 178.81 375.82 181.12 376.03 184.38 C376.23 187.64 376.27 193.12 375.80 196.50 C375.32 199.88 374.38 202.50 373.19 204.66 C371.99 206.82 370.41 208.52 368.62 209.47 C366.84 210.42 364.20 210.68 362.47 210.35 C360.74 210.03 359.32 209.24 358.24 207.52 C357.16 205.80 356.50 203.01 356.00 200.04 C355.49 197.06 354.93 193.09 355.22 189.68Z" fill="#00ffff" filter="url(#b1)"/><path d="M356.86 189.86 C357.11 186.86 357.82 183.14 358.70 180.91 C359.58 178.68 360.84 177.61 362.15 176.50 C363.46 175.39 365.09 174.53 366.55 174.25 C368.00 173.97 369.70 174.13 370.90 174.81 C372.09 175.49 373.09 176.61 373.71 178.35 C374.34 180.10 374.53 182.38 374.64 185.27 C374.75 188.16 374.74 192.69 374.37 195.68 C374.00 198.66 373.42 201.17 372.42 203.20 C371.43 205.22 370.00 206.91 368.39 207.84 C366.78 208.76 364.34 209.03 362.76 208.73 C361.19 208.43 359.86 207.66 358.93 206.03 C358.01 204.39 357.55 201.61 357.21 198.92 C356.86 196.22 356.61 192.86 356.86 189.86Z" fill="#0080ff" filter="url(#b05)"/><path d="M358.20 190.00 C358.42 187.33 358.78 184.03 359.50 182.00 C360.22 179.97 361.33 178.87 362.50 177.80 C363.67 176.73 365.17 175.88 366.50 175.60 C367.83 175.32 369.42 175.45 370.50 176.10 C371.58 176.75 372.50 177.85 373.00 179.50 C373.50 181.15 373.47 183.42 373.50 186.00 C373.53 188.58 373.48 192.33 373.20 195.00 C372.92 197.67 372.63 200.08 371.80 202.00 C370.97 203.92 369.67 205.60 368.20 206.50 C366.73 207.40 364.45 207.68 363.00 207.40 C361.55 207.12 360.30 206.37 359.50 204.80 C358.70 203.23 358.42 200.47 358.20 198.00 C357.98 195.53 357.98 192.67 358.20 190.00Z" fill="#0000ff" filter="url(#b03)"/><ellipse cx="391.00" cy="192.50" rx="11.00" ry="21.00" fill="url(#rR)"/><ellipse cx="413.30" cy="193.50" rx="10.50" ry="21.00" fill="url(#rB2)"/><ellipse cx="437.80" cy="194.00" rx="10.00" ry="19.50" fill="url(#rR2)"/><path d="M290.64 171.75 C290.81 170.69 292.37 170.35 293.62 170.19 C294.87 170.03 297.02 170.28 298.16 170.80 C299.30 171.32 299.42 172.61 300.46 173.33 C301.50 174.04 303.23 174.25 304.39 175.07 C305.56 175.89 306.71 176.91 307.46 178.22 C308.22 179.53 308.69 181.14 308.90 182.94 C309.11 184.73 309.12 187.25 308.70 188.99 C308.28 190.73 307.62 192.35 306.37 193.35 C305.11 194.35 303.04 194.65 301.17 194.97 C299.30 195.29 296.92 195.53 295.16 195.26 C293.40 194.98 291.09 194.13 290.63 193.34 C290.17 192.56 292.06 191.82 292.40 190.52 C292.73 189.23 292.55 187.24 292.63 185.58 C292.71 183.91 292.89 182.05 292.88 180.55 C292.87 179.05 292.96 178.04 292.59 176.57 C292.21 175.11 290.46 172.81 290.64 171.75Z" fill="#ffff00" filter="url(#b08)"/><path d="M291.40 172.80 C291.50 171.78 292.97 171.52 294.10 171.40 C295.23 171.28 297.18 171.57 298.20 172.10 C299.22 172.63 299.30 173.93 300.20 174.60 C301.10 175.27 302.58 175.40 303.60 176.10 C304.62 176.80 305.63 177.67 306.30 178.80 C306.97 179.93 307.38 181.32 307.60 182.90 C307.82 184.48 307.93 186.73 307.60 188.30 C307.27 189.87 306.72 191.40 305.60 192.30 C304.48 193.20 302.58 193.42 300.90 193.70 C299.22 193.98 297.08 194.23 295.50 194.00 C293.92 193.77 291.78 193.05 291.40 192.30 C291.02 191.55 292.80 190.72 293.20 189.50 C293.60 188.28 293.65 186.42 293.80 185.00 C293.95 183.58 294.15 182.25 294.10 181.00 C294.05 179.75 293.95 178.87 293.50 177.50 C293.05 176.13 291.30 173.82 291.40 172.80Z" fill="#ff0000" filter="url(#b03)"/><ellipse cx="289.80" cy="192.40" rx="3.40" ry="1.40" fill="#ff0000" filter="url(#b03)"/><path d="M285.24 179.25 C286.01 178.45 287.37 178.25 288.43 178.20 C289.50 178.16 290.80 178.39 291.63 178.99 C292.47 179.59 293.06 180.63 293.47 181.82 C293.88 183.02 294.10 184.83 294.09 186.16 C294.08 187.48 293.84 188.82 293.39 189.76 C292.94 190.71 292.33 191.40 291.40 191.82 C290.48 192.24 288.93 192.44 287.84 192.29 C286.74 192.13 285.56 191.70 284.85 190.89 C284.14 190.07 283.74 188.69 283.57 187.38 C283.40 186.07 283.53 184.39 283.80 183.03 C284.08 181.68 284.47 180.06 285.24 179.25Z" fill="#00ffff" filter="url(#b05)"/><path d="M285.80 180.20 C286.42 179.50 287.60 179.33 288.50 179.30 C289.40 179.27 290.52 179.47 291.20 180.00 C291.88 180.53 292.30 181.50 292.60 182.50 C292.90 183.50 293.00 184.92 293.00 186.00 C293.00 187.08 292.93 188.20 292.60 189.00 C292.27 189.80 291.77 190.43 291.00 190.80 C290.23 191.17 288.92 191.33 288.00 191.20 C287.08 191.07 286.07 190.70 285.50 190.00 C284.93 189.30 284.72 188.08 284.60 187.00 C284.48 185.92 284.60 184.63 284.80 183.50 C285.00 182.37 285.18 180.90 285.80 180.20Z" fill="#0000ff" filter="url(#b03)"/><ellipse cx="289.00" cy="176.40" rx="2.90" ry="2.50" fill="#00ffff" filter="url(#b05)"/><ellipse cx="289.00" cy="176.40" rx="2.00" ry="1.70" fill="#0000ff" filter="url(#b03)"/><path d="M255.76 177.25 C255.99 176.64 257.05 175.64 258.20 174.77 C259.35 173.90 261.04 172.62 262.64 172.02 C264.24 171.41 266.32 171.31 267.80 171.14 C269.28 170.98 270.58 170.87 271.50 171.03 C272.41 171.20 273.20 171.71 273.27 172.13 C273.33 172.56 272.79 173.23 271.89 173.59 C271.00 173.94 269.41 173.87 267.90 174.27 C266.39 174.67 264.29 175.52 262.84 176.00 C261.40 176.47 260.23 176.71 259.23 177.12 C258.23 177.52 257.41 178.40 256.83 178.42 C256.25 178.44 255.53 177.86 255.76 177.25Z" fill="#ffff00" filter="url(#b05)"/><path d="M256.80 176.90 C257.05 176.37 258.22 175.37 259.30 174.70 C260.38 174.03 262.02 173.37 263.30 172.90 C264.58 172.43 265.80 172.13 267.00 171.90 C268.20 171.67 269.63 171.42 270.50 171.50 C271.37 171.58 272.15 172.03 272.20 172.40 C272.25 172.77 271.70 173.38 270.80 173.70 C269.90 174.02 268.00 174.05 266.80 174.30 C265.60 174.55 264.70 174.82 263.60 175.20 C262.50 175.58 261.17 176.15 260.20 176.60 C259.23 177.05 258.37 177.85 257.80 177.90 C257.23 177.95 256.55 177.43 256.80 176.90Z" fill="#ff0000" filter="url(#b03)"/><path d="M258.60 177.30 C258.77 177.02 260.02 176.42 261.00 176.10 C261.98 175.78 263.37 175.52 264.50 175.40 C265.63 175.28 267.45 175.22 267.80 175.40 C268.15 175.58 267.40 176.23 266.60 176.50 C265.80 176.77 264.10 176.78 263.00 177.00 C261.90 177.22 260.73 177.75 260.00 177.80 C259.27 177.85 258.43 177.58 258.60 177.30Z" fill="#0000ff" filter="url(#b03)"/><ellipse cx="276.00" cy="174.80" rx="4.30" ry="2.00" fill="#ffff00" filter="url(#b05)"/><ellipse cx="276.00" cy="174.80" rx="3.30" ry="1.10" fill="#ff0000" filter="url(#b03)"/><ellipse cx="281.20" cy="171.70" rx="5.20" ry="2.00" fill="#00ffff" filter="url(#b05)"/><ellipse cx="281.20" cy="171.70" rx="4.20" ry="1.00" fill="#0000ff" filter="url(#b03)"/><ellipse cx="283.60" cy="174.90" rx="1.80" ry="0.90" fill="#ff0000" filter="url(#b03)"/><ellipse cx="280.00" cy="179.00" rx="5.00" ry="4.00" fill="#a0ff00" filter="url(#b15)" opacity="0.6"/><path d="M256.5 177.3 L257.5 177.3 L259.7 177.6 L263.5 178.6 L268.3 180.5 L273.0 182.9 L277.8 185.2 L282.6 188.1 L286.6 190.3 L286.6 190.7 L282.6 189.8 L277.8 188.3 L273.0 186.4 L268.3 184.3 L263.5 181.9 L259.0 179.8 L257.0 178.6Z" fill="#fff" filter="url(#b03)"/></g><linearGradient id="cb138_0"><stop offset="0" stop-color="#0000d8"/><stop offset="1" stop-color="#1060ff"/></linearGradient><rect x="293.60" y="144.3" width="20.30" height="5.20" fill="url(#cb138_0)"/><linearGradient id="cb138_1"><stop offset="0" stop-color="#00c8ff"/><stop offset="1" stop-color="#00ffff"/></linearGradient><rect x="313.90" y="144.3" width="20.30" height="5.20" fill="url(#cb138_1)"/><linearGradient id="cb138_2"><stop offset="0" stop-color="#00ffd0"/><stop offset="1" stop-color="#00ff70"/></linearGradient><rect x="334.20" y="144.3" width="20.30" height="5.20" fill="url(#cb138_2)"/><linearGradient id="cb138_3"><stop offset="0" stop-color="#60ff00"/><stop offset="1" stop-color="#d0ff00"/></linearGradient><rect x="354.50" y="144.3" width="20.30" height="5.20" fill="url(#cb138_3)"/><linearGradient id="cb138_4"><stop offset="0" stop-color="#ffff00"/><stop offset="1" stop-color="#ffc000"/></linearGradient><rect x="374.80" y="144.3" width="20.30" height="5.20" fill="url(#cb138_4)"/><linearGradient id="cb138_5"><stop offset="0" stop-color="#ff9000"/><stop offset="1" stop-color="#ff1000"/></linearGradient><rect x="395.10" y="144.3" width="20.30" height="5.20" fill="url(#cb138_5)"/><rect x="293.6" y="144.3" width="121.80" height="5.20" fill="none" stroke="#333" stroke-width="0.5"/><path d="M313.90 144.3V149.5 M334.20 144.3V149.5 M354.50 144.3V149.5 M374.80 144.3V149.5 M395.10 144.3V149.5" stroke="#333" stroke-width="0.6"/><text x="276.00" y="154.40" text-anchor="middle" font-family='"Liberation Serif",serif' font-size="3.6" font-weight="bold" font-style="normal" fill="#111" textLength="13.5" lengthAdjust="spacingAndGlyphs">Vorticity</text><text x="293.60" y="154.40" text-anchor="middle" font-family='"Liberation Serif",serif' font-size="3.4" font-weight="bold" font-style="normal" fill="#111" textLength="6" lengthAdjust="spacingAndGlyphs">-2E-08</text><text x="313.90" y="154.40" text-anchor="middle" font-family='"Liberation Serif",serif' font-size="3.4" font-weight="bold" font-style="normal" fill="#111" textLength="14.5" lengthAdjust="spacingAndGlyphs">-1.0002E-08</text><text x="334.20" y="154.40" text-anchor="middle" font-family='"Liberation Serif",serif' font-size="3.4" font-weight="bold" font-style="normal" fill="#111" textLength="14.5" lengthAdjust="spacingAndGlyphs">-4.0002E-09</text><text x="354.50" y="154.40" text-anchor="middle" font-family='"Liberation Serif",serif' font-size="3.4" font-weight="bold" font-style="normal" fill="#111" textLength="14.5" lengthAdjust="spacingAndGlyphs">1.3006E-07</text><text x="374.80" y="154.40" text-anchor="middle" font-family='"Liberation Serif",serif' font-size="3.4" font-weight="bold" font-style="normal" fill="#111" textLength="14.5" lengthAdjust="spacingAndGlyphs">6.0778E-09</text><text x="395.10" y="154.40" text-anchor="middle" font-family='"Liberation Serif",serif' font-size="3.4" font-weight="bold" font-style="normal" fill="#111" textLength="14.5" lengthAdjust="spacingAndGlyphs">1.9994E-08</text><rect x="250.9" y="138.6" width="191.10" height="87.00" fill="none" stroke="#666" stroke-width="0.7"/><path d="M250.9 225.6H442.0" stroke="#222" stroke-width="0.9" stroke-dasharray="1.4 1.0"/><path d="M250.9 138.6V225.6" stroke="#222" stroke-width="0.9" stroke-dasharray="1.4 1.0"/><text x="251.00" y="230.50" text-anchor="middle" font-family='"Liberation Serif",serif' font-size="4.8" font-weight="normal" font-style="normal" fill="#222" stroke="#222" stroke-width="0.12">-0.5</text><text x="266.90" y="230.50" text-anchor="middle" font-family='"Liberation Serif",serif' font-size="4.8" font-weight="normal" font-style="normal" fill="#222" stroke="#222" stroke-width="0.12">0</text><text x="282.80" y="230.50" text-anchor="middle" font-family='"Liberation Serif",serif' font-size="4.8" font-weight="normal" font-style="normal" fill="#222" stroke="#222" stroke-width="0.12">0.5</text><text x="298.70" y="230.50" text-anchor="middle" font-family='"Liberation Serif",serif' font-size="4.8" font-weight="normal" font-style="normal" fill="#222" stroke="#222" stroke-width="0.12">1</text><text x="314.60" y="230.50" text-anchor="middle" font-family='"Liberation Serif",serif' font-size="4.8" font-weight="normal" font-style="normal" fill="#222" stroke="#222" stroke-width="0.12">1.5</text><text x="330.50" y="230.50" text-anchor="middle" font-family='"Liberation Serif",serif' font-size="4.8" font-weight="normal" font-style="normal" fill="#222" stroke="#222" stroke-width="0.12">2</text><text x="346.40" y="230.50" text-anchor="middle" font-family='"Liberation Serif",serif' font-size="4.8" font-weight="normal" font-style="normal" fill="#222" stroke="#222" stroke-width="0.12">2.5</text><text x="362.30" y="230.50" text-anchor="middle" font-family='"Liberation Serif",serif' font-size="4.8" font-weight="normal" font-style="normal" fill="#222" stroke="#222" stroke-width="0.12">3</text><text x="378.20" y="230.50" text-anchor="middle" font-family='"Liberation Serif",serif' font-size="4.8" font-weight="normal" font-style="normal" fill="#222" stroke="#222" stroke-width="0.12">3.5</text><text x="394.10" y="230.50" text-anchor="middle" font-family='"Liberation Serif",serif' font-size="4.8" font-weight="normal" font-style="normal" fill="#222" stroke="#222" stroke-width="0.12">4</text><text x="410.00" y="230.50" text-anchor="middle" font-family='"Liberation Serif",serif' font-size="4.8" font-weight="normal" font-style="normal" fill="#222" stroke="#222" stroke-width="0.12">4.5</text><text x="425.90" y="230.50" text-anchor="middle" font-family='"Liberation Serif",serif' font-size="4.8" font-weight="normal" font-style="normal" fill="#222" stroke="#222" stroke-width="0.12">5</text><text x="441.80" y="230.50" text-anchor="middle" font-family='"Liberation Serif",serif' font-size="4.8" font-weight="normal" font-style="normal" fill="#222" stroke="#222" stroke-width="0.12">5.5</text><text x="248.30" y="147.60" text-anchor="end" font-family='"Liberation Serif",serif' font-size="4.8" font-weight="normal" font-style="normal" fill="#222" stroke="#222" stroke-width="0.12">1</text><text x="248.30" y="165.60" text-anchor="end" font-family='"Liberation Serif",serif' font-size="4.8" font-weight="normal" font-style="normal" fill="#222" stroke="#222" stroke-width="0.12">0.5</text><text x="248.30" y="183.60" text-anchor="end" font-family='"Liberation Serif",serif' font-size="4.8" font-weight="normal" font-style="normal" fill="#222" stroke="#222" stroke-width="0.12">0</text><text x="248.30" y="201.60" text-anchor="end" font-family='"Liberation Serif",serif' font-size="4.8" font-weight="normal" font-style="normal" fill="#222" stroke="#222" stroke-width="0.12">-0.5</text><text x="248.30" y="219.60" text-anchor="end" font-family='"Liberation Serif",serif' font-size="4.8" font-weight="normal" font-style="normal" fill="#222" stroke="#222" stroke-width="0.12">-1</text><text transform="translate(240.8,181.90) rotate(-90)" text-anchor="middle" font-family='"Liberation Serif",serif' font-size="8" font-style="italic" fill="#111">y</text><text x="346.50" y="238.90" text-anchor="middle" font-family='"Liberation Serif",serif' font-size="8" font-weight="normal" font-style="italic" fill="#111">x</text><text x="232.00" y="143.20" text-anchor="start" font-family='"Liberation Serif",serif' font-size="9.6" font-weight="normal" font-style="normal" fill="#111" textLength="11.5" lengthAdjust="spacingAndGlyphs" stroke="#111" stroke-width="0.1">(b)</text><text x="310.00" y="133.60" text-anchor="start" font-family='"Liberation Sans",Arial,sans-serif' font-size="8.7" font-weight="bold" font-style="normal" fill="#111" textLength="75.9" lengthAdjust="spacingAndGlyphs" stroke="#111" stroke-width="0.15">von K&#225;rm&#225;n mode</text><text x="260.4" y="214.6" font-family='"Liberation Serif",serif' font-size="9.4" fill="#111" textLength="17.4" lengthAdjust="spacingAndGlyphs"><tspan font-style="italic">fc</tspan>/<tspan font-style="italic">U</tspan></text><text x="276.4" y="217.6" font-family='"Liberation Serif",serif' font-size="4.4" fill="#111">&#8734;</text><text x="282.40" y="214.60" text-anchor="start" font-family='"Liberation Serif",serif' font-size="10" font-weight="normal" font-style="normal" fill="#111" textLength="5.4" lengthAdjust="spacingAndGlyphs" stroke="#111" stroke-width="0.15">=</text><text x="289.40" y="214.60" text-anchor="start" font-family='"Liberation Serif",serif' font-size="10" font-weight="normal" font-style="normal" fill="#111" textLength="23.4" lengthAdjust="spacingAndGlyphs" stroke="#111" stroke-width="0.15">0.5674</text>
</svg></body></html>
